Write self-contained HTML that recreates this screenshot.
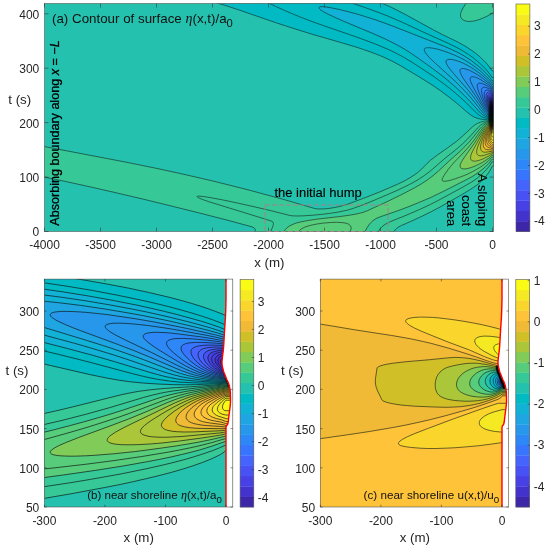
<!DOCTYPE html><html><head><meta charset="utf-8"><title>Contour of surface</title><style>html,body{margin:0;padding:0;background:#fff}svg{display:block}</style></head><body><svg width="549" height="550" viewBox="0 0 549 550"><style>text{font-family:"Liberation Sans",Arial,sans-serif;fill:#262626}.tk{font-size:12px}.lb{font-size:13.3px}.an{font-size:13px;fill:#000;stroke:#000;stroke-width:0.12px}</style><defs><clipPath id="ca"><rect x="44.5" y="3.6" width="449.1" height="227.9"/></clipPath><clipPath id="cb"><rect x="44.4" y="279.1" width="188.4" height="227.9"/></clipPath><clipPath id="cc"><rect x="320.3" y="279.1" width="188.4" height="227.9"/></clipPath><radialGradient id="bg1"><stop offset="0" stop-color="#000" stop-opacity="0.95"/><stop offset="0.55" stop-color="#000" stop-opacity="0.8"/><stop offset="1" stop-color="#000" stop-opacity="0"/></radialGradient></defs><rect width="549" height="550" fill="#fff"/><g clip-path="url(#ca)"><rect x="40" y="0" width="460" height="236" fill="#24c1ae"/><g stroke="#0c1614" stroke-width="0.55" stroke-linejoin="round" fill-rule="evenodd"><path d="M254.9 235.9L394.1 235.9 394.1 231.5 394.4 231 395.1 229.9 396.2 228.8 398.3 227.1 401.4 225.5 410.6 221.5 419.1 217.6 431.2 211.7 441.5 206.2 459.9 195.7 469.7 189.9 476.4 185.4 479.1 183.3 480.9 181.7 483.1 179.4 485.4 176.9 487.6 174.1 489.4 171.5 490.9 168.9 492.1 166.2 494.1 166.2 494.1 118.9 492.1 118.9 490.3 119.6 486.7 120.6 480.9 122 477.9 123.2 475.1 124.8 472.8 126.6 462.5 136.2 456.7 141.2 448.7 147.1 436.6 155.6 430.7 160.1 427 163.5 421.2 169.5 417.5 172.7 412.1 176.5 405.7 180.3 401.3 182.5 396.5 184.7 380 191.8 363.5 198.3 347.3 204.3 341.9 205.9 335.8 207.3 329.9 208.3 324.1 208.9 318.7 209 316.5 208.8 314.7 208.5 282.4 199.1 250.2 190.4 230.9 185.5 211.2 180.6 180.7 173.6 155.2 168.1 128.3 162.6 41.4 146 41.4 176.5 64.3 181.2 88 186.4 114 192.3 141.9 198.8 173.3 206.5 203.8 214.1 229 220.6 251.1 226.6 252.7 227.1 253.8 227.7 254.7 228.5 255.2 229.3 255.3 230.4 254.9 231.5ZM468.7 21.4L471.1 21.4 473.3 21.1 476 20.5 479.1 19.6 482.7 18.2 486.3 16.6 489.9 14.6 492.1 13 494.1 13 494.1 -6.9 470.2 -6.9 470.2 -2.5 465.8 3.5 463.1 7.8 461.3 11.6 460.7 13.3 460.5 14.9 460.6 16.5 461 17.6 461.7 18.7 462.5 19.5 463.9 20.3 465.2 20.9 467 21.3Z" fill="#37c897"/><path d="M270.6 235.9L378.4 235.9 378.4 231.5 379.3 229.9 380.6 228.2 382.2 226.6 384.1 225.1 386 223.9 388.2 222.7 390.9 221.4 406.1 215.3 419.5 209.5 430.3 204.5 440.6 199.2 463 187 471.5 182.1 474.6 180.1 477.8 177.7 480.9 175.1 484 172.1 486.7 169.3 489 166.5 490.8 164.1 492.1 161.8 494.1 161.8 494.1 119.5 492.1 119.5 483.7 123.2 482.3 124 480.3 125.4 477.4 128.1 471.5 134.8 467.5 139 463.6 142.8 459.4 146.6 454.2 151 445.1 158.2 434.1 167.8 429.6 171.6 424.5 175.4 418.7 179.3 413.1 182.5 407 185.7 397.1 190.4 386.4 195.1 372.9 200.8 359.1 206.3 353.7 208.2 347.9 210 342 211.3 335.9 212.5 328.6 213.5 321.4 214.4 312.9 215.2 303.9 215.8 296.8 216 292.3 215.8 290.1 215.5 271.4 210.8 253 206.5 238.3 203.2 222.7 199.9 211.4 197.8 204.7 196.7 198.7 196.1 197.8 196.2 197.3 196.4 197 196.7 197.5 197.2 199.6 198.3 203.7 199.9 208.5 201.6 258.7 217.1 270.8 220.9 272.1 221.4 273 222.2 273.3 222.8 273.4 223.3 273.3 224.4 272.9 226.1 272.4 227.7 270.6 231.5Z" fill="#37c897"/><path d="M284 235.9L365 235.9 365 231.5 367.1 227.6 368.9 224.9 370.7 222.8 372.9 220.7 375.2 219.1 377 218.1 379.7 217 399 210.3 407.8 207 416 203.7 430.1 197.8 442.5 191.8 467.5 179.1 471.5 176.9 474.6 175.1 480 171.3 484.9 167.3 488.5 163.7 492.1 159.2 494.1 159.2 494.1 120.1 492.1 120.1 491.3 120.5 485.6 123.7 483.3 125.4 481.6 127 480.1 128.6 471.9 138.8 468.8 142.4 465.2 146.2 459.4 151.9 450 160.2 438.8 170.7 433 175.7 427.1 180.1 421.3 183.9 414.6 187.8 401.2 194.8 386.8 201.8 367.6 210.6 364.9 211.7 362.2 212.6 356.4 214 348.3 215.4 339.3 216.6 317.4 219.1 307.5 220.6 299.9 222.1 296.8 222.9 294.1 223.8 291.4 225 289.2 226.2 287.1 227.7 285.5 229.3 284 231.5Z" fill="#57cc7a"/><path d="M298.9 235.9L350.1 235.9 350.1 231.5 350.6 230.4 351 229.3 351.1 228.2 351 227.1 350.6 226.1 350.2 225.5 349.2 224.6 348.3 224 347 223.5 345.6 223.1 342 222.6 336.7 222.3 330.4 222.5 323.2 223.1 316.9 224 311.9 225 307.8 226.1 304.4 227.3 301.6 228.8 300.1 229.9 299.5 230.6 298.9 231.5ZM442.6 180.9L443.7 181.3 445.5 181.2 447.8 180.9 451.3 180 455.4 178.7 460.3 177 464.8 175.3 468.8 173.5 472.4 171.7 476.4 169.5 480 167.4 483.1 165.3 485.8 163.2 488.1 161.3 492.1 157.1 494.1 157.1 494.1 120.7 492.1 120.7 490.6 121.6 485.4 125.4 484.2 126.5 482.7 128.1 480.6 130.8 474.2 139.9 469.3 146.1 463.4 152.7 453.6 162.9 450.8 166.2 448.2 169.5 444.7 174.4 442.8 177.6 442.3 178.7 442.1 179.8 442.2 180.3Z" fill="#57cc7a"/><path d="M463.8 168.9L466.1 168.8 468.8 168.2 471.9 167.3 476 165.6 480.9 163.2 485.8 160.3 489.4 157.8 492.1 155.4 494.1 155.4 494.1 121.3 492.1 121.3 490.8 122.1 486.9 125.4 485.4 126.9 484.3 128.1 482 131.4 477.3 138.8 474.2 143.6 465.4 155.8 462.8 159.7 461.5 161.8 460.7 163.5 460.2 165.1 460.1 166.2 460.4 167.3 460.8 167.8 461.2 168.2 462.1 168.6Z" fill="#81cc59"/><path d="M472.3 160.7L473.7 161.1 475.5 161.1 477.3 160.8 479.6 160.2 482.7 159 486.3 157.3 489.9 155.4 492.1 153.8 494.1 153.8 494.1 121.9 492.1 121.9 490.4 123.2 488.7 124.8 486.6 127 485.3 128.6 483.8 130.8 481.9 134.1 473.8 148.8 472.2 152 471.3 154.2 470.6 156.9 470.6 158.6 471.1 159.8 471.5 160.3Z" fill="#abc739"/><path d="M480.2 155.8L481.8 155.8 484 155.4 490.8 153.1 492.1 152.5 494.1 152.5 494.1 122.6 492.1 122.6 491.3 123.2 489.1 125.4 486.4 128.6 484.7 131.4 483.2 134.1 479.3 142.8 478 146.1 477.1 148.8 476.7 151 476.7 152.6 476.9 153.7 477.3 154.4 477.8 154.9 478.7 155.5Z" fill="#abc739"/><path d="M483.4 152L484.5 152.2 485.8 152.2 491.2 151.4 492.1 151.2 494.1 151.2 494.1 123.2 492.1 123.2 490.4 124.8 488.2 127.5 486.7 129.7 485.5 131.9 484.2 134.6 482.9 137.9 481.8 141.2 481 143.9 480.6 146.1 480.6 147.7 480.8 149.3 481.2 150.4 482.2 151.5Z" fill="#d1bf27"/><path d="M491.1 149.9L494.1 149.9 494.1 124 492.1 124 491.7 124.3 489.9 126.5 487.7 129.7 486 133 484.8 136.3 483.8 139.5 483.3 142.2 483.2 144.4 483.4 146.1 483.7 147.1 484.5 148.3 485.4 149.1 486.7 149.6Z" fill="#f0ba36"/><path d="M490.9 148.2L492.1 148.6 494.1 148.6 494.1 124.7 492.1 124.7 491 125.9 488.9 129.2 487.7 131.4 486.6 134.1 485.8 136.8 485.3 139.5 485.1 141.7 485.2 143.3 485.7 145 486.3 146 487.2 146.9 488.1 147.4Z" fill="#f0ba36"/><path d="M491.9 147.1L492.1 147.3 494.1 147.3 494.1 125.5 492.1 125.5 491.4 126.5 490 128.6 488.8 130.8 487.9 133 487.1 135.7 486.7 138.4 486.6 140.1 486.7 141.7 487 142.8 487.6 144.2 488.2 145 489 145.6Z" fill="#fec338"/><path d="M491.7 145.5L492.1 145.9 494.1 145.9 494.1 126.3 492.1 126.3 491.3 127.5 489.9 130.3 489 132.4 488.4 134.6 488 136.8 487.9 139.5 488.2 141.2 488.5 142.2 489 143.1 489.6 143.9Z" fill="#fec338"/><path d="M491.7 143.9L492.1 144.3 494.1 144.3 494.1 127.3 492.1 127.3 491.4 128.6 490 131.9 489.5 133.5 489.2 135.2 489 137.9 489.1 139.5 489.4 140.6 490.2 142.2Z" fill="#fad62d"/><path d="M491.9 142.2L492.1 142.5 494.1 142.5 494.1 128.4 492.1 128.4 490.8 131.9 490.1 134.6 489.9 136.8 490.2 139 490.8 140.7Z" fill="#f5e924"/><path d="M492 140.1L494.1 140.1 494.1 129.8 492.1 129.8 491.3 133 490.9 135.2 491 137.3 491.3 139 491.7 139.6Z" fill="#f5e924"/><path d="M492.1 136.8L492.1 137 494.1 137 494.1 132 492.1 132 491.8 134.6Z" fill="#f9fb15"/><path d="M483 119.4L486.7 119.4 490.3 118.9 492.1 118.4 494.1 118.4 494.1 70.8 492.1 70.8 489.2 66.6 486.3 63.1 483.1 59.8 479.1 56.1 476.4 53.9 472.8 51.2 466.1 46.7 462.5 44.6 458.5 42.4 442.3 34.5 433.8 30.1 406.5 15.1 397.1 10.2 390.4 6.9 383.2 3.7 375.6 0.5 367.9 -2.5 367.9 -6.9 196.5 -6.9 196.5 -2.5 214.8 2.4 224.2 5.1 239.1 10 276.2 22.8 295.9 29.2 312 34.2 343.2 43.2 357.5 47.5 365.7 50.3 371.8 52.4 378.8 55.1 384 57.3 393.2 61.7 401.1 66 420.2 77.5 433.1 85.6 441 91.1 449.1 97.1 457.2 103.6 467.5 112.5 469.7 114.2 471.9 115.8 474.5 117.2 476.9 118.1 480 119Z" fill="#02bac3"/><path d="M484.6 117.8L486.3 118.1 488.5 118.2 490.8 118.2 492.1 117.8 494.1 117.8 494.1 77.4 492.1 77.4 489.4 73.5 485.4 68.8 481.4 64.7 476.4 60.4 472.4 57.2 468.4 54.4 463.9 51.5 459.4 48.9 454 46.1 447.3 42.9 428.6 34.5 403.4 22.8 388.2 16.2 376.1 11.5 363.5 7 349.2 2.2 333.9 -2.5 333.9 -6.9 258.3 -6.9 258.3 -2.5 263.2 0.2 269.5 3.5 276.3 6.7 284.7 10.5 298.1 16.2 312.5 21.7 321.9 25.1 356.8 37.1 373.3 43.2 381.4 46.5 388.9 49.7 395.3 52.8 401.6 56.1 410.2 61.1 422.9 69.3 434.3 76.9 443.3 83.4 451.8 90 459.4 96.5 466 102.5 475.2 111.8 477.8 114.1 479.7 115.6 481.4 116.5 482.8 117.2Z" fill="#02bac3"/><path d="M488.2 117.2L490.8 117.5 492.1 117.3 494.1 117.3 494.1 80.8 492.1 80.8 490.3 78.2 488.1 75.5 484.9 72.2 481.8 69.1 478.7 66.4 475.1 63.5 471.5 60.8 467.9 58.4 463 55.3 458.1 52.6 452.2 49.8 445.5 46.8 396.1 27.4 386 23.6 376.9 20.3 366.9 17.1 357.9 14.3 347.9 11.6 338.9 9.4 331.1 7.8 324.1 6.7 321 6.7 320.1 6.8 319.2 7.3 319 7.8 319.2 8.4 319.6 8.9 320.8 10 323.3 11.6 327.4 13.8 334.3 17.1 342.8 20.9 373.4 33.7 385.5 39.1 393.1 42.9 399.4 46.2 404.3 49 410.1 52.7 418.2 58.2 432.5 68.5 440.6 74.6 447.8 80.3 455.8 87.3 464.3 95.4 469.7 101 478.3 110.7 480.9 113.4 482.7 114.8 484.5 115.9 486.2 116.7Z" fill="#12b1d6"/><path d="M489.8 116.7L491.2 116.9 494.1 116.8 494.1 83 492.1 83 489.4 79.7 484.9 75.2 480.5 71.1 475.5 67.2 471.9 64.6 467.9 62 464.3 59.9 460.3 57.8 454.5 55.1 448.7 52.8 443.1 50.8 437.6 49.2 432.5 48.1 428.9 47.7 427.6 47.7 426.3 47.8 425.4 48.1 424.6 48.6 424.3 49.2 424.3 49.7 424.5 50.8 424.9 51.9 426.8 54.6 429.7 57.9 435.4 63.3 452.2 78.5 457.2 83.2 462.1 88.2 467 93.4 471.1 98 474.6 102.3 480.7 110.1 483.1 112.9 484.5 114 486.3 115.3 488.1 116.1Z" fill="#12b1d6"/><path d="M490.6 116.1L491.7 116.3 494.1 116.2 494.1 84.8 492.1 84.8 489.9 82.3 486.7 79.3 483.1 76.1 480 73.6 476.9 71.3 473.3 68.8 469.7 66.6 466.6 64.9 463.4 63.3 460.3 61.9 457.6 61 454.5 60 451.8 59.5 449.5 59.3 447.8 59.5 446.7 60.1 446.2 60.6 446 61.1 446 62.2 446.3 63.3 447.7 66 450.1 69.3 454.1 74.2 466.6 88.4 471.5 94.3 475.5 99.6 482.1 109 484.2 111.8 485.8 113.4 487.2 114.5 489 115.5Z" fill="#20a5e3"/><path d="M491.1 115.6L491.7 115.7 494.1 115.7 494.1 86.4 492.1 86.4 489 83.4 482.3 78 476.9 74.3 471.9 71.5 468.4 69.8 465.2 68.8 463.9 68.5 462.5 68.5 461.6 68.6 460.7 69 460.3 69.5 460 70.4 460 71.5 460.3 72.6 461.4 75.3 463.7 79.1 475.5 95.8 478.7 100.6 483.5 108.5 485 110.7 486.4 112.3 488.1 113.9 489.4 114.8Z" fill="#2797eb"/><path d="M491.4 115L492.1 115.2 494.1 115.2 494.1 87.7 492.1 87.7 489 85.1 484.9 82.4 480.9 79.8 477.8 78.2 475.5 77.3 473.7 76.8 472.4 76.7 471.2 76.9 470.6 77.4 470.3 78 470.1 79.1 470.3 80.2 471.2 82.9 473 86.7 483.7 106.3 485.6 109.6 487.2 111.8 488.8 113.4 489.9 114.3Z" fill="#2797eb"/><path d="M491.6 114.5L492.1 114.6 494.1 114.6 494.1 88.9 492.1 88.9 488.5 86.6 484.9 84.7 482.7 83.7 480.5 83.1 479.6 83 478.7 83.2 478.1 83.5 477.6 84 477.2 85.1 477.2 86.2 477.4 87.8 477.9 89.5 479.7 94.3 484.2 104.7 486.5 109 487.9 111.2 489 112.5 490.3 113.7Z" fill="#2e87f7"/><path d="M491.7 113.9L492.1 114.1 494.1 114.1 494.1 90.1 492.1 90.1 489.4 88.7 485.8 87.5 484.5 87.3 483.1 87.4 482.5 87.8 482 88.4 481.6 89.5 481.5 90.5 481.6 92.2 481.9 93.8 483.1 98.2 485.2 104.1 486.4 106.9 487.5 109 488.4 110.7 489.7 112.3 490.8 113.3Z" fill="#2e87f7"/><path d="M491.8 113.4L492.1 113.6 494.1 113.6 494.1 91.2 492.1 91.2 490.3 90.5 488.5 90.1 487.2 90 486.3 90.1 485.4 90.5 484.9 91 484.6 91.6 484.3 92.7 484.2 93.8 484.2 95.4 484.9 99.2 486.5 104.7 488.1 108.5 488.9 110.1 489.9 111.5 490.8 112.5Z" fill="#3875fe"/><path d="M491.9 112.9L492.1 113 494.1 113 494.1 92.2 492.1 92.2 490.8 91.9 489 91.9 488 92.2 487.2 92.7 486.4 93.8 486.1 94.9 486 96 486.2 99.2 487.1 103.6 487.8 105.8 488.6 108 490 110.7 490.8 111.8Z" fill="#4563fd"/><path d="M492 112.3L492.1 112.4 494.1 112.4 494.1 93.3 490.8 93.2 489.9 93.4 489 93.8 488.4 94.3 488 94.9 487.6 96 487.4 97.1 487.3 98.7 487.5 100.9 487.8 103.1 488.5 105.8 489.3 108 490 109.6 491.1 111.2Z" fill="#4563fd"/><path d="M492.1 111.8L494.1 111.8 494.1 94.3 491.7 94.3 490.8 94.6 489.9 95.1 489.4 95.5 489 96.2 488.6 97.1 488.4 98.2 488.3 99.8 488.4 101.4 488.7 103.6 489.2 105.8 490.4 109 490.9 110.1Z" fill="#4852f4"/><path d="M491.8 110.7L492.1 111.1 494.1 111.1 494.1 95.3 492.1 95.3 491.7 95.4 490.8 96 489.8 97.1 489.4 98.2 489.2 99.2 489.2 102 489.7 105.2 490.5 108Z" fill="#4741e5"/><path d="M491.9 110.1L492.1 110.4 494.1 110.4 494.1 96.4 492.1 96.4 491.7 96.6 490.8 97.6 490.4 98.2 490 99.8 489.9 102.5 490.2 105.2 491 108Z" fill="#4741e5"/><path d="M492.1 109.6L494.1 109.6 494.1 97.5 492.1 97.5 491.2 98.7 490.6 100.3 490.5 102.5 490.7 104.7 491.3 107.4Z" fill="#4332cb"/><path d="M492 108.5L492.1 108.7 494.1 108.7 494.1 98.7 492.1 98.7 491.5 99.8 491.2 100.9 491 102.5 491.1 104.7 491.5 106.9Z" fill="#4332cb"/><path d="M492 107.4L492.1 107.6 494.1 107.6 494.1 100.2 492.1 100.2 491.8 100.9 491.6 102 491.5 103.6 491.6 105.2Z" fill="#3e26a8"/><path d="M492.1 105.8L492.1 106 494.1 106 494.1 102.2 492.1 102.2 491.9 104.1Z" fill="#3e26a8"/></g><ellipse cx="491.8" cy="116" rx="4.6" ry="19" fill="url(#bg1)"/></g><g clip-path="url(#cb)"><rect x="40" y="275" width="200" height="236" fill="#24c1ae"/><g stroke="#0c1614" stroke-width="0.68" stroke-linejoin="round" fill-rule="evenodd"><path d="M37.1 499.6L70.4 493.9 104.3 487.6 120.1 484.5 133.4 481.6 146.1 478.7 158.2 475.8 170.9 472.5 182.4 469.2 192.7 465.9 202.4 462.5 210.9 459.1 218.1 455.7 220.6 454.4 223 452.8 224.8 451.4 226 450.1 234.5 450.1 234.5 383.8 226 383.8 215.7 384.9 196.3 386.4 164.9 388.4 150.4 389.8 138.2 391.4 129.1 393.1 121.9 394.6 72.3 407 55.5 411 37.1 415Z" fill="#37c897"/><path d="M37.1 487.4L37.1 487.8 48.6 486 69.8 482.8 90.4 479.4 120.1 474.1 146.1 468.8 160 465.7 172.1 462.8 183.6 459.8 193.3 457 203 453.9 212.7 450.6 219.3 447.9 225.5 445.1 226 445 234.5 445 234.5 384.6 225.4 384.7 187.3 389.1 172.9 391 166.7 392 160.2 393.3 152.1 395.2 143.7 397.4 110.5 407.4 86.6 414.1 62 420.4 37.1 426.2Z" fill="#37c897"/><path d="M37.1 478.4L37.1 478.5 39.6 478.2 63.2 475 95.9 470.3 123.1 466 147.3 461.7 159.4 459.4 170.9 457 181.2 454.6 190.9 452.3 199.4 450 206 448 212.1 446.1 222.4 442.5 226 441.4 234.5 441.4 234.5 385.5 226 385.5 216.9 386.7 187.3 391.2 179.4 392.7 172.7 394.2 164.9 396.2 157 398.6 122.8 410.2 110.4 414.1 97.7 417.9 83.7 421.9 69.2 425.8 53.5 429.9 37.1 433.9Z" fill="#57cc7a"/><path d="M37.1 469.4L37.1 469.6 54.1 467.9 86.2 464.2 114 460.6 141.9 456.5 168.5 452.1 179.4 450 190.3 447.8 198.8 445.9 206 444.1 213.3 442.2 221.8 439.6 226 438.6 234.5 438.6 234.5 386.3 226 386.3 217.5 387.5 209.2 389 192.9 392.1 185.7 393.7 179.6 395.3 171.8 397.6 164.8 400 131 412.8 118.3 417.3 104.9 421.7 89.8 426.5 74.1 431.2 56.5 436.2 37.1 441.5Z" fill="#57cc7a"/><path d="M64.2 456L69.8 456.2 77.1 456.1 85.6 455.8 94.6 455.3 114.6 453.7 134.6 451.6 147.9 449.9 161.8 448 176.4 445.9 189.1 443.8 198.8 442.1 207.8 440.3 214.5 438.8 225.4 436.2 234.5 436.2 234.5 387.1 226 387.1 219.9 388.1 215 389 200.9 392.1 191.2 394.5 184.8 396.3 178.5 398.4 173.1 400.4 167.2 402.7 144.9 412.3 128.5 419 112.2 425.2 78.4 437.6 65.5 442.7 58.5 445.8 54.1 448.2 51.4 450.2 50.7 450.9 50.3 451.7 50.2 452.5 50.6 453.3 51.6 454.1 52.9 454.6 55.3 455.2 57.7 455.6Z" fill="#81cc59"/><path d="M121.9 444.7L129.8 444.8 138.8 444.6 149.7 444 161.8 443 179.4 441 201.8 438 219.9 435.2 226 433.8 234.5 433.8 234.5 388 226 388 220.6 388.9 215.7 389.9 204 392.9 194.1 395.7 188 397.6 181.8 400 175.4 402.7 168.6 405.9 152.8 413.6 131.3 423.9 121.9 428.6 115.6 432.1 111.4 434.9 109.9 436 108.7 437.2 107.7 438.4 107.4 439.2 107.2 440.4 107.5 441.1 108.3 441.9 109.8 442.8 112.1 443.5 114.6 444 117.6 444.4Z" fill="#abc739"/><path d="M159.2 437.2L164.3 437.3 170.3 437.1 183 436.4 219.3 433 223.6 432.4 224.8 432.1 226 431.6 234.5 431.6 234.5 388.9 226 388.9 221.2 389.8 216.9 390.8 209.1 392.9 197.7 396.5 192.1 398.4 186.5 400.8 179.8 403.9 172.3 407.8 161.5 414.1 153.2 419.2 148 422.7 144.5 425.5 142.1 427.8 141.3 429 140.7 430.2 140.4 431 140.4 431.7 140.8 432.9 142 434.1 143.1 434.7 144.3 435.2 147.2 436 150.3 436.6 154.6 437Z" fill="#abc739"/><path d="M176.8 431.7L184.2 432 193.3 431.9 221.2 430.7 224.2 430.4 226 429.9 234.5 429.9 234.5 389.8 226 389.8 222.4 390.6 218.7 391.4 214.9 392.5 201.9 396.8 194.8 399.6 187.5 403.1 180.6 407 174.1 411.4 168 416.1 164.4 419.6 163.1 421.2 162.1 422.7 161.5 424.3 161.4 425.5 161.7 426.6 162.6 427.8 163.7 428.7 165.5 429.6 167.9 430.4 170.3 430.9 173.3 431.4Z" fill="#d1bf27"/><path d="M218.3 428.6L223 428.7 226 428.5 234.5 428.5 234.5 390.8 226 390.8 220.6 392.1 215.4 393.7 207.7 396.5 201.7 398.8 197.4 400.8 193.7 402.7 189.1 405.5 185.7 407.8 182.7 410.2 180.2 412.5 178.2 414.9 176.7 417.2 175.9 419.2 175.8 420.8 176 421.9 176.7 423.1 177.5 423.9 178.5 424.7 180.1 425.5 182.2 426.2 184.8 426.9 189.7 427.7 195.7 428.2 201.2 428.4Z" fill="#f0ba36"/><path d="M225.7 427L234.5 427.1 234.5 391.8 226 391.8 223.1 392.5 219.3 393.7 215.1 395.3 208.3 398 203.1 400.4 200.1 401.9 197.5 403.5 194.1 405.9 191.7 407.8 189.7 409.8 188.3 411.4 187.1 413.3 186.4 414.9 186.1 416.4 186.2 417.6 186.5 418.8 187.3 420 188.5 421.1 189.8 421.9 191.5 422.7 193.6 423.5 197.5 424.4 202.4 425.2 207.2 425.6 219.3 426.4Z" fill="#f0ba36"/><path d="M225.8 425.5L226 425.6 234.5 425.6 234.5 392.9 226 392.9 225.4 393.1 223 393.8 219.8 394.9 211.8 398.4 205.6 401.6 203.6 402.7 201.3 404.3 199.4 405.9 197.4 407.8 195.8 409.8 194.9 411.4 194.3 412.9 194.2 414.1 194.3 415.3 194.7 416.4 195.4 417.6 196.3 418.5 197.9 419.6 199.4 420.4 202.4 421.5 206 422.3 210.3 423 221.2 424.4 224.2 424.9Z" fill="#fec338"/><path d="M225.5 423.5L226 423.7 234.5 423.7 234.5 394.1 226 394.1 222.4 395.3 218.1 397.2 210.8 401.2 208.2 402.7 206.1 404.3 204.3 405.9 203 407.4 202 409 201.3 410.6 201 411.7 201 412.5 201.2 413.7 201.5 414.5 202.2 415.7 202.9 416.4 203.9 417.2 205.2 418 207.8 419.2 210.3 420 213.7 420.8 221.2 422.1 223.6 422.8Z" fill="#fec338"/><path d="M225.2 421.2L226 421.5 234.5 421.5 234.5 395.3 226 395.3 224.2 396 222.4 396.8 216.9 400 211.7 403.5 209.8 405.1 208.8 406.3 207.9 407.4 207.3 408.6 206.9 410.6 207 411.7 207.2 412.5 208.1 414.1 209.8 415.7 211.8 416.8 213.9 417.7 216.3 418.5 221.8 419.9Z" fill="#fad62d"/><path d="M225.3 418.4L226 418.7 234.5 418.7 234.5 396.6 226 396.6 224.8 397.2 223 398.2 221 399.6 216.5 403.1 214.1 405.5 213.2 406.6 212.6 407.8 212.2 409.4 212.3 411 213.1 412.5 214.5 414 216.3 415.2 218.2 416.1Z" fill="#f5e924"/><path d="M225.2 414.9L226 415 234.5 415 234.5 398.2 226 398.2 224 399.6 221.5 401.9 219.4 404.3 218.1 406.3 217.5 407.8 217.4 409.4 217.6 410.6 218.4 411.7 219.7 412.9 221.2 413.7 223 414.4Z" fill="#f5e924"/><path d="M224.9 410.6L226 410.7 234.5 410.7 234.5 400.2 226 400.2 225.4 400.8 224.5 401.9 223.3 403.9 222.7 405.5 222.5 407 222.6 408.2 223 409.1 223.6 409.8 224.1 410.2Z" fill="#f9fb15"/><path d="M174.7 384.7L185.4 384.8 196.3 384.6 215.7 383.9 226 383.1 234.5 383.1 234.5 315.3 226 315.3 225.4 315.1 223.5 314.5 213.9 310.8 207.2 308.4 199.4 305.8 190.9 303.2 180.6 300.3 170.9 297.7 160 295.1 148.5 292.4 127.9 288 107.4 284.1 85 280.2 61.3 276.5 61.3 271.8 37.1 271.8 37.1 362.4 90.4 374.7 105.5 377.8 118.3 380.1 130.4 381.8 143.7 383.1 159.4 384.1Z" fill="#02bac3"/><path d="M190.6 382.7L200 383 212.7 383 219.3 382.8 226 382.3 234.5 382.3 234.5 325.4 226 325.4 224.2 324.4 221.8 323.3 212.7 319.8 203.6 316.7 192.1 313.1 181.2 310 168.5 306.6 155.2 303.3 141.9 300.3 117 295.1 92.2 290.4 66.2 286.1 37.1 281.8 37.1 349.3 59 354.5 77.9 359.2 94.6 363.5 132.2 373.6 140.6 375.7 147.9 377.4 158.8 379.5 169.1 381 179.4 382.1Z" fill="#02bac3"/><path d="M214 382L219.9 381.9 226 381.5 234.5 381.5 234.5 330 226 330 219.3 327.2 211.5 324.5 201.8 321.4 189.1 317.8 177.6 314.7 164.9 311.5 151.5 308.4 137.6 305.3 114 300.6 88.6 296 63.2 291.9 37.1 288.2 37.1 340.7 67.4 348.5 92.8 355.3 114.3 361.6 150.9 372.7 158.2 374.7 165 376.5 170.4 377.6 176.4 378.8 181.8 379.6 187.9 380.4 200.6 381.4Z" fill="#12b1d6"/><path d="M211.5 380.8L219.3 381.1 226 380.8 234.5 380.8 234.5 333.1 226 333.1 218.7 330.5 211.5 328.2 200 324.9 186.7 321.4 173.9 318.2 160.6 315.1 146.7 312 132.8 309.2 109.8 304.9 86.2 300.9 62 297.3 37.1 294.1 37.1 333.2 73.8 343.1 89.2 347.5 103.4 351.8 114.8 355.3 126.7 359.2 162.2 371.4 173.3 374.7 182 376.9 191.5 378.6 201.8 380Z" fill="#12b1d6"/><path d="M215.6 380L221.2 380.2 226 380.1 234.5 380.1 234.5 335.6 226 335.6 218.1 333.1 210.3 330.9 194.5 326.9 180.6 323.6 167.9 320.7 155.2 318.1 141.9 315.4 127.9 312.9 104.9 309 80.7 305.4 57.7 302.6 37.1 300.5 37.1 325.3 87.4 340.6 102.5 345.4 115.2 349.5 135.2 356.5 147.9 361.3 169.1 369.5 175.3 371.8 180.6 373.5 188.5 375.7 197.4 377.6 206.6 379.1Z" fill="#20a5e3"/><path d="M218.2 379.2L222.4 379.4 234.5 379.3 234.5 337.7 226 337.7 215.7 334.9 206.6 332.8 186.7 328.4 168.5 324.7 152.1 321.6 137 319 122.5 316.8 108 314.7 96.5 313.4 85.6 312.3 76.5 311.7 67.4 311.4 61.3 311.4 55.9 311.9 54.1 312.2 52.3 312.7 51 313.4 50.3 314.1 50.1 314.9 50.6 316.1 51.7 317.3 53.3 318.4 55.8 320 58 321.2 65.6 324.7 72.3 327.5 80.4 330.6 118.3 344.6 135.2 351.1 149.7 357.1 173.6 367.4 181.3 370.6 190.2 373.7 194.5 375 199.4 376.2 204.1 377.2 208.5 378 213.3 378.7Z" fill="#2797eb"/><path d="M219.8 378.4L223.6 378.6 234.5 378.6 234.5 339.6 226 339.6 215.7 337.2 207.2 335.4 180.6 330.6 169.1 328.6 157 326.8 147.8 325.5 138.8 324.5 131.6 323.8 125.5 323.4 119.5 323.2 114.6 323.2 110.9 323.5 108 324.1 106.1 324.9 105.5 325.5 105.3 325.9 105.2 326.7 105.4 327.5 106.3 328.6 107.5 329.8 110.7 332.2 116.1 335.3 125.4 340 151.5 352.5 176.8 365.1 183.4 368.2 187.9 370.2 192.8 372.2 197.4 373.7 201.3 374.9 205.8 376.1 210.3 377 215.1 377.8Z" fill="#2797eb"/><path d="M220.9 377.6L224.2 377.9 234.5 377.9 234.5 341.3 226 341.3 210.3 338.3 198.2 336.5 178.2 333.9 170.3 333 164.9 332.6 156.4 332.3 152.8 332.4 149.7 332.7 147.3 333.1 145.5 333.6 144 334.5 143.4 335.3 143.2 336.1 143.3 336.9 143.6 337.7 144.3 338.8 146.6 341.2 150.5 344.3 156.2 348.2 164.3 353.3 177.3 361.2 184.8 365.5 190 368.2 194.2 370.2 198.9 372.2 203 373.6 207.1 374.9 211.8 376.1 216.3 377Z" fill="#2e87f7"/><path d="M221.7 376.9L224.8 377.1 234.5 377.2 234.5 342.8 226 342.8 214.5 341.1 207.2 340.2 192.7 338.9 183 338.4 177 338.5 174.5 338.7 172.1 339.1 170.3 339.6 169.1 340 167.8 340.8 167 341.6 166.6 342.4 166.4 343.1 166.5 343.9 166.9 345.1 168 347.1 170.3 349.8 173.7 352.9 178.6 356.9 183.8 360.8 189 364.3 192.9 366.7 197.2 369 201.3 371 205.1 372.5 209.1 373.9 212.7 375 217.3 376.1Z" fill="#2e87f7"/><path d="M222.3 376.1L225.4 376.4 234.5 376.4 234.5 344.3 226 344.3 216.3 343.2 210.3 342.8 201.8 342.4 195.1 342.4 190.3 342.8 187.9 343.1 186.1 343.5 184.8 344 183.3 344.7 181.8 345.9 181.3 346.7 181.1 347.5 181.1 349 181.7 351 182.8 352.9 185 355.7 187.6 358.4 190.6 361.2 194.1 363.9 197.4 366.3 200.6 368.2 204.3 370.2 207.7 371.8 210.9 373 214.5 374.2 218.6 375.3Z" fill="#3875fe"/><path d="M225.5 375.7L234.5 375.7 234.5 345.7 226 345.7 218.1 345.2 213.9 345.1 208.4 345.1 203.6 345.3 199.4 345.8 196.3 346.5 193.9 347.5 192.7 348.2 191.9 349 191.2 350.2 190.9 351.8 191.2 353.7 192 355.7 193.4 358 195.3 360.4 197.7 362.7 200.4 365.1 203.1 367.1 205.5 368.6 208.4 370.2 211.7 371.8 214.7 372.9 218.3 374.1 222.9 375.3Z" fill="#4563fd"/><path d="M225.2 374.9L234.5 375 234.5 347.2 226 347.2 218.1 347 213.9 347.1 209.7 347.4 206.6 347.9 203.6 348.6 201.2 349.7 199.5 351 198.6 352.2 198.1 353.7 198.1 355.3 198.4 356.9 199.3 358.8 200.5 360.8 202.1 362.7 204.1 364.7 206.4 366.7 208.7 368.2 211.3 369.8 213.6 371 216.2 372.2 219.5 373.3 223 374.4Z" fill="#4563fd"/><path d="M225.2 374.1L226 374.2 234.5 374.2 234.5 348.6 221.8 348.6 215.1 349.1 211.5 349.7 209.1 350.3 207.2 351.1 205.4 352.3 204.5 353.3 203.8 354.5 203.5 355.7 203.5 357.3 203.9 358.8 204.6 360.4 205.8 362.4 207 363.9 208.6 365.5 210.4 367.1 212.6 368.6 214.6 369.8 216.8 371 219.5 372.2 223 373.4Z" fill="#4852f4"/><path d="M225.3 373.3L226 373.5 234.5 373.5 234.5 349.9 226 349.9 223 350.1 219.3 350.5 215.7 351.2 212.7 352.1 210.9 353 209.8 353.7 209.1 354.5 208.2 356.1 208 356.9 207.9 358 208 359.2 208.4 360.4 208.9 361.6 209.8 363.1 211.8 365.5 214.5 367.8 217.5 369.8 221.4 371.8Z" fill="#4741e5"/><path d="M225.5 372.5L226 372.7 234.5 372.7 234.5 351.4 226 351.4 223 351.6 219.9 352.3 216.9 353.2 214.8 354.1 213.2 355.3 212.6 356.1 212.1 356.9 211.9 357.6 211.7 358.8 211.9 360.8 212.4 362 213 363.1 214.4 365.1 216.4 367.1 218.9 369 221.6 370.6Z" fill="#4741e5"/><path d="M225.7 371.8L226 371.9 234.5 371.9 234.5 352.8 226 352.8 224.7 352.9 223 353.3 219.9 354.4 218 355.3 216.4 356.5 215.8 357.3 215.4 358 215 359.6 215.2 361.6 215.8 363.1 217.1 365.1 218.5 366.7 220.3 368.2 221.9 369.4Z" fill="#4332cb"/><path d="M225.9 371L234.5 371 234.5 354.3 226 354.3 224.9 354.5 222.4 355.6 220.6 356.5 219.2 357.6 218.4 358.8 218 360 218 361.6 218.4 363.1 219.2 364.7 220.4 366.3 221.6 367.4Z" fill="#4332cb"/><path d="M225.9 369.8L226 369.9 234.5 369.9 234.5 355.8 226 355.8 224.7 356.5 222.9 357.6 222 358.4 221.2 359.5 220.7 360.4 220.6 361.6 220.7 362.7 221.2 364.3 221.9 365.5 222.8 366.7Z" fill="#3e26a8"/><path d="M225.9 368.2L226 368.4 234.5 368.4 234.5 357.6 226 357.6 224.1 359.6 223.4 360.8 223.1 361.6 223 362.4 223.1 363.5 223.5 364.7 223.9 365.5Z" fill="#3e26a8"/><path d="M226 365.1L234.5 365.1 234.5 361.4 226 361.4 225.7 363.1Z" fill="#3e26a8"/></g><polyline points="228.5,387 228.4,386.3 228.2,385.5 228,384.7 227.7,383.9 227.4,383.1 227.1,382.3 226.8,381.6 226.4,380.8 226,380 225.7,379.2 225.3,378.4" fill="none" stroke="#000" stroke-opacity="0.45" stroke-width="1.6" stroke-linecap="round" stroke-linejoin="round"/><polygon points="226,511.7 226,510.9 226,510.1 226,509.4 226,508.6 226,507.8 226,507 226,506.2 226,505.4 226,504.6 226,503.9 226,503.1 226,502.3 226,501.5 226,500.7 226,499.9 226,499.2 226,498.4 226,497.6 226,496.8 226,496 226,495.2 226,494.5 226,493.7 226,492.9 226,492.1 226,491.3 226,490.5 226,489.8 226,489 226,488.2 226,487.4 226,486.6 226,485.8 226,485 226,484.3 226,483.5 226,482.7 226,481.9 226,481.1 226,480.3 226,479.6 226,478.8 226,478 226,477.2 226,476.4 226,475.6 226,474.9 226,474.1 226,473.3 226,472.5 226,471.7 226,470.9 226,470.2 226,469.4 226,468.6 226,467.8 226,467 226,466.2 226,465.4 226,464.7 226,463.9 226,463.1 226,462.3 226,461.5 226,460.7 226,460 226,459.2 226,458.4 226,457.6 226,456.8 226,456 226,455.3 226,454.5 226,453.7 226,452.9 226,452.1 226,451.3 226,450.6 226,449.8 226,449 226,448.2 226,447.4 226,446.6 226,445.8 226,445.1 226,444.3 226,443.5 226,442.7 226,441.9 226,441.1 226,440.4 226,439.6 226,438.8 226,438 226,437.2 226,436.4 226,435.7 226,434.9 226,434.1 226,433.3 226,432.5 226,431.7 226,431 226,430.2 226,429.4 226,428.6 226,427.8 226.1,427 226.3,426.2 226.7,425.5 227.4,424.7 227.8,423.9 228,423.1 228.1,422.3 228.3,421.5 228.4,420.8 228.5,420 228.5,419.2 228.6,418.4 228.7,417.6 228.8,416.8 228.9,416.1 229,415.3 229.1,414.5 229.2,413.7 229.3,412.9 229.4,412.1 229.5,411.4 229.6,410.6 229.7,409.8 229.8,409 229.9,408.2 230,407.4 230.1,406.6 230.2,405.9 230.3,405.1 230.3,404.3 230.4,403.5 230.5,402.7 230.5,401.9 230.5,401.2 230.5,400.4 230.5,399.6 230.5,398.8 230.5,398 230.5,397.2 230.5,396.5 230.4,395.7 230.4,394.9 230.4,394.1 230.4,393.3 230.4,392.5 230.3,391.8 230.2,391 230.1,390.2 230,389.4 229.9,388.6 229.7,387.8 229.5,387 229.4,386.3 229.2,385.5 229,384.7 228.7,383.9 228.4,383.1 228.1,382.3 227.8,381.6 227.4,380.8 227,380 226.7,379.2 226.3,378.4 226,377.6 225.7,376.9 225.4,376.1 225.1,375.3 224.8,374.5 224.5,373.7 224.2,372.9 223.9,372.2 223.6,371.4 223.4,370.6 223.2,369.8 223,369 222.8,368.2 222.6,367.4 222.5,366.7 222.3,365.9 222.2,365.1 222.1,364.3 222,363.5 222,362.7 222,362 222,361.2 222.1,360.4 222.2,359.6 222.3,358.8 222.3,358 222.4,357.3 222.5,356.5 222.6,355.7 222.7,354.9 222.8,354.1 222.9,353.3 223,352.6 223.1,351.8 223.2,351 223.3,350.2 223.4,349.4 223.4,348.6 223.5,347.8 223.6,347.1 223.6,346.3 223.7,345.5 223.7,344.7 223.8,343.9 223.8,343.1 223.9,342.4 223.9,341.6 224,340.8 224,340 224.1,339.2 224.1,338.4 224.2,337.7 224.2,336.9 224.2,336.1 224.3,335.3 224.3,334.5 224.4,333.7 224.4,333 224.5,332.2 224.5,331.4 224.6,330.6 224.6,329.8 224.6,329 224.7,328.2 224.7,327.5 224.8,326.7 224.9,325.9 224.9,325.1 225,324.3 225,323.5 225.1,322.8 225.1,322 225.2,321.2 225.2,320.4 225.3,319.6 225.3,318.8 225.4,318.1 225.4,317.3 225.5,316.5 225.5,315.7 225.5,314.9 225.6,314.1 225.6,313.4 225.6,312.6 225.7,311.8 225.7,311 225.7,310.2 225.7,309.4 225.8,308.6 225.8,307.9 225.8,307.1 225.8,306.3 225.9,305.5 225.9,304.7 225.9,303.9 225.9,303.2 225.9,302.4 225.9,301.6 226,300.8 226,300 226,299.2 226,298.5 226,297.7 226,296.9 226,296.1 226,295.3 226,294.5 226,293.8 226,293 226,292.2 226,291.4 226,290.6 226,289.8 226,289 226,288.3 226,287.5 226,286.7 226,285.9 226,285.1 226,284.3 226,283.6 226,282.8 226,282 226,281.2 226,280.4 226,279.6 226,278.9 226,278.1 226,277.3 226,276.5 226,275.7 226,274.9 234.8,274.9 234.8,511.7" fill="#fff"/><polyline points="226,511.7 226,510.9 226,510.1 226,509.4 226,508.6 226,507.8 226,507 226,506.2 226,505.4 226,504.6 226,503.9 226,503.1 226,502.3 226,501.5 226,500.7 226,499.9 226,499.2 226,498.4 226,497.6 226,496.8 226,496 226,495.2 226,494.5 226,493.7 226,492.9 226,492.1 226,491.3 226,490.5 226,489.8 226,489 226,488.2 226,487.4 226,486.6 226,485.8 226,485 226,484.3 226,483.5 226,482.7 226,481.9 226,481.1 226,480.3 226,479.6 226,478.8 226,478 226,477.2 226,476.4 226,475.6 226,474.9 226,474.1 226,473.3 226,472.5 226,471.7 226,470.9 226,470.2 226,469.4 226,468.6 226,467.8 226,467 226,466.2 226,465.4 226,464.7 226,463.9 226,463.1 226,462.3 226,461.5 226,460.7 226,460 226,459.2 226,458.4 226,457.6 226,456.8 226,456 226,455.3 226,454.5 226,453.7 226,452.9 226,452.1 226,451.3 226,450.6 226,449.8 226,449 226,448.2 226,447.4 226,446.6 226,445.8 226,445.1 226,444.3 226,443.5 226,442.7 226,441.9 226,441.1 226,440.4 226,439.6 226,438.8 226,438 226,437.2 226,436.4 226,435.7 226,434.9 226,434.1 226,433.3 226,432.5 226,431.7 226,431 226,430.2 226,429.4 226,428.6 226,427.8 226.1,427 226.3,426.2 226.7,425.5 227.4,424.7 227.8,423.9 228,423.1 228.1,422.3 228.3,421.5 228.4,420.8 228.5,420 228.5,419.2 228.6,418.4 228.7,417.6 228.8,416.8 228.9,416.1 229,415.3 229.1,414.5 229.2,413.7 229.3,412.9 229.4,412.1 229.5,411.4 229.6,410.6 229.7,409.8 229.8,409 229.9,408.2 230,407.4 230.1,406.6 230.2,405.9 230.3,405.1 230.3,404.3 230.4,403.5 230.5,402.7 230.5,401.9 230.5,401.2 230.5,400.4 230.5,399.6 230.5,398.8 230.5,398 230.5,397.2 230.5,396.5 230.4,395.7 230.4,394.9 230.4,394.1 230.4,393.3 230.4,392.5 230.3,391.8 230.2,391 230.1,390.2 230,389.4 229.9,388.6 229.7,387.8 229.5,387 229.4,386.3 229.2,385.5 229,384.7 228.7,383.9 228.4,383.1 228.1,382.3 227.8,381.6 227.4,380.8 227,380 226.7,379.2 226.3,378.4 226,377.6 225.7,376.9 225.4,376.1 225.1,375.3 224.8,374.5 224.5,373.7 224.2,372.9 223.9,372.2 223.6,371.4 223.4,370.6 223.2,369.8 223,369 222.8,368.2 222.6,367.4 222.5,366.7 222.3,365.9 222.2,365.1 222.1,364.3 222,363.5 222,362.7 222,362 222,361.2 222.1,360.4 222.2,359.6 222.3,358.8 222.3,358 222.4,357.3 222.5,356.5 222.6,355.7 222.7,354.9 222.8,354.1 222.9,353.3 223,352.6 223.1,351.8 223.2,351 223.3,350.2 223.4,349.4 223.4,348.6 223.5,347.8 223.6,347.1 223.6,346.3 223.7,345.5 223.7,344.7 223.8,343.9 223.8,343.1 223.9,342.4 223.9,341.6 224,340.8 224,340 224.1,339.2 224.1,338.4 224.2,337.7 224.2,336.9 224.2,336.1 224.3,335.3 224.3,334.5 224.4,333.7 224.4,333 224.5,332.2 224.5,331.4 224.6,330.6 224.6,329.8 224.6,329 224.7,328.2 224.7,327.5 224.8,326.7 224.9,325.9 224.9,325.1 225,324.3 225,323.5 225.1,322.8 225.1,322 225.2,321.2 225.2,320.4 225.3,319.6 225.3,318.8 225.4,318.1 225.4,317.3 225.5,316.5 225.5,315.7 225.5,314.9 225.6,314.1 225.6,313.4 225.6,312.6 225.7,311.8 225.7,311 225.7,310.2 225.7,309.4 225.8,308.6 225.8,307.9 225.8,307.1 225.8,306.3 225.9,305.5 225.9,304.7 225.9,303.9 225.9,303.2 225.9,302.4 225.9,301.6 226,300.8 226,300 226,299.2 226,298.5 226,297.7 226,296.9 226,296.1 226,295.3 226,294.5 226,293.8 226,293 226,292.2 226,291.4 226,290.6 226,289.8 226,289 226,288.3 226,287.5 226,286.7 226,285.9 226,285.1 226,284.3 226,283.6 226,282.8 226,282 226,281.2 226,280.4 226,279.6 226,278.9 226,278.1 226,277.3 226,276.5 226,275.7 226,274.9" fill="none" stroke="#f00" stroke-width="1.4" stroke-linejoin="round"/></g><g clip-path="url(#cc)"><rect x="316" y="275" width="200" height="236" fill="#fec338"/><g stroke="#0c1614" stroke-width="0.6" stroke-linejoin="round" fill-rule="evenodd"><path d="M420 448.2L427.5 448.5 436 448.5 445.1 448.2 454.2 447.8 465.7 446.9 477.8 445.8 489.9 444.3 502 442.6 510.5 442.6 510.5 403.3 498.4 403.3 494.9 404.3 482.3 408.6 453.7 418.8 427.5 428.6 414.4 433.7 407.2 436.8 402.7 439.2 399.9 441.1 398.8 442.3 398.5 443.1 398.5 443.9 399.1 444.7 400.5 445.5 402.7 446.1 405.7 446.7 410.5 447.4ZM499.9 361.2L502 361.3 510.5 361.3 510.5 329.9 502 329.9 497.2 328.4 489.9 326.5 481.4 324.6 472.3 322.8 463.8 321.3 454.8 319.9 446.3 318.8 438.4 317.9 432.3 317.4 426.3 317.2 420.8 317.1 416 317.3 412.4 317.7 408.9 318.4 407 319.2 406.3 319.7 405.8 320.4 405.7 321.2 406.2 322.4 407.3 323.5 408.7 324.7 410.6 325.9 413.4 327.5 420.9 331 430.3 334.9 449 342.4 468.7 349.7 484.2 356.5 489.1 358.4 492.3 359.6 495.1 360.4 497.8 360.9Z" fill="#fad62d"/><path d="M501.7 432.1L510.5 432.2 510.5 409.7 502 409.7 495.8 411.4 492.1 412.5 488.2 414.1 484.6 416.1 482 418 480.8 419.2 480 420.4 479.5 421.5 479.3 422.7 479.3 423.9 479.6 424.7 480.3 425.9 481.1 426.6 482.1 427.4 483.4 428.2 485 429 486.9 429.7 491.1 430.8 495.3 431.5ZM501.4 359.2L510.5 359.2 510.5 337.8 502 337.8 491.7 336.4 488.1 336.2 484.4 336.1 481.4 336.4 478.9 336.9 477 337.7 475.5 338.8 475 339.6 474.7 340.8 474.8 342 475.3 343.1 475.9 344.3 477.2 345.9 478.8 347.5 480.6 349 482.3 350.2 484.9 351.8 492.2 355.7 497.5 358 499.6 358.8Z" fill="#f5e924"/><path d="M501.5 356.9L502 357.2 510.5 357.2 510.5 343.6 502 343.6 499 343.8 497.2 344.2 495.9 344.6 495.1 345.1 494.3 345.9 493.8 347.1 493.8 348.2 494.1 349.4 494.9 351 496.1 352.6 497.7 354.1 499.7 355.7Z" fill="#f9fb15"/><path d="M313 439.2L313 439.6 326.4 437.8 348.2 434.7 369.4 431.5 393.6 427.4 405.6 425.1 416.8 422.7 430.4 419.6 444.5 416 461.4 411.3 475.4 407.2 486.9 403.3 497.8 399.4 499.6 398.5 500.8 397.7 501.6 396.8 502 395.8 510.5 395.8 510.5 363.6 501.4 363.6 499 363.8 496.5 363.5 494.1 363 489.4 361.6 476.6 357.1 467.5 354 448.7 348.2 431.7 343.5 423.5 341.6 412.6 339.2 405.1 337.8 391.8 335.5 354.7 329.8 331.6 325.9 313 322.9Z" fill="#f0ba36"/><path d="M434.4 407L445.1 407.3 453.5 407.1 461.4 406.6 469.3 405.5 474.1 404.6 479 403.5 483.8 402.1 488.7 400.5 494.1 398.5 498.4 396.6 500.8 395.2 502 394.1 510.5 394.1 510.5 365.9 502 365.9 497.8 365.6 493.8 364.7 480.8 360.9 472.9 359.1 468.1 358.3 463.8 357.8 459 357.5 454.8 357.4 447.5 357.9 429.9 359.7 406.3 361.7 393.8 363.1 386.9 364.2 382.1 365.3 380.3 365.9 378.5 366.7 377.8 367.1 377.1 367.8 375.5 378.4 375.3 381.6 375.6 384.7 376.4 387.8 377.6 391 380.7 397.2 381.7 399.6 382.1 400.1 382.8 400.8 385.4 401.9 389.6 403.1 394.8 404.1 400.9 405 407.5 405.6 414.8 406.2Z" fill="#d1bf27"/><path d="M464.8 401.2L469.3 401.2 474.1 401 478.4 400.6 482.6 400 487.5 398.9 492.3 397.3 497.2 395.2 501.4 392.9 502 392.7 510.5 392.7 510.5 368.5 502 368.5 490.5 365.4 485 364.3 478.4 363.4 475.4 363.2 471.7 363.2 467.5 363.4 463.2 363.9 458.4 364.7 452.8 365.9 449.6 366.7 446.9 367.5 445.1 368.4 442.7 369.8 441.2 371 439.9 372.2 438.1 374.5 436.6 377.2 435.7 380.4 435.4 382.3 435.2 384.3 435.4 387.8 435.7 389.4 436.2 391 436.9 392.5 437.6 393.7 439 395.3 441.2 396.8 443.8 398 446.3 398.9 449.9 399.7 454.2 400.4 459.6 400.9Z" fill="#abc739"/><path d="M476.3 396.8L479.6 397.1 482.6 397.1 485.6 397 488.1 396.6 491.7 395.8 494.7 394.8 497.8 393.5 501.4 391.5 502 391.4 510.5 391.4 510.5 370.6 502 370.6 497.2 368.7 492.3 367.4 487.5 366.7 485 366.6 482 366.7 479 367 476.6 367.4 474.5 367.8 471.9 368.6 469.9 369.4 467.3 370.6 465.2 371.8 463 373.3 461.2 374.9 459.4 376.9 458.1 378.8 457.2 380.8 456.6 383.1 456.5 385.1 456.9 387 457.5 388.6 458.6 390.2 459.8 391.4 461.5 392.5 463.8 393.7 466.9 394.9 469.7 395.7 472.9 396.4Z" fill="#81cc59"/><path d="M485.4 394.1L489.3 394.3 491.7 394.1 493.5 393.7 495.3 393.2 497.2 392.5 502 390.1 510.5 390.1 510.5 372.3 502 372.3 498.4 370.4 495.3 369.4 492.3 368.9 488.7 368.9 484.9 369.4 483.2 369.8 481.1 370.6 477.9 372.2 476.2 373.3 474.7 374.5 473 376.1 471.8 377.6 470.8 379.2 470.1 380.8 469.8 382.3 469.7 383.9 470 385.5 470.5 386.7 471.3 387.8 472.5 389 474 390.2 476.1 391.4 478.4 392.4 480.8 393.2 482.9 393.7Z" fill="#57cc7a"/><path d="M489.6 391.8L491.1 392 492.9 392.1 495.9 391.7 497.2 391.4 499 390.6 502 388.9 510.5 388.9 510.5 373.6 502 373.6 499.6 372.2 497.2 371.1 495.3 370.7 492.9 370.6 489.9 371 487.4 371.8 485 372.9 482.9 374.5 481.7 375.7 480.8 376.9 480 378 479.2 379.6 478.9 380.8 478.8 382 478.8 383.1 479.1 384.3 479.7 385.5 480.5 386.7 481.6 387.8 483.1 389 484.4 389.9 486.3 390.7 488 391.4Z" fill="#37c897"/><path d="M494.1 390.2L496.5 390.2 498.4 389.9 500.8 388.9 502 388.1 510.5 388.1 510.5 374.7 502 374.7 500.8 373.8 499 372.9 497.2 372.3 495.3 372.1 493.5 372.3 491.7 372.9 489.9 373.7 488.3 374.9 487.6 375.7 486.7 376.9 486 378 485.6 379.2 485.3 380.4 485.3 381.6 485.4 382.7 485.8 383.9 486.9 385.9 487.9 387 488.8 387.8 489.9 388.6 491.4 389.4 492.9 389.9Z" fill="#24c1ae"/><path d="M495.7 388.6L497.2 388.9 499 388.8 500.8 388.2 502 387.4 510.5 387.4 510.5 375.5 502 375.5 500.8 374.7 499.6 374.1 498.4 373.7 497.2 373.6 495.9 373.7 494.7 374 493.5 374.6 492.3 375.5 491.1 376.9 490.6 377.6 490.2 378.8 489.9 380.8 490.1 382.7 490.9 384.7 492.1 386.3 492.9 387 494 387.8Z" fill="#02bac3"/><path d="M497.3 387.4L498.4 387.7 499.6 387.8 500.8 387.5 502 386.8 510.5 386.8 510.5 376.2 502 376.2 500.2 375.1 498.4 374.8 497.7 374.9 496.5 375.3 495.3 376.1 494.2 377.2 493.5 378.8 493.2 380.4 493.3 382 493.7 383.5 494.5 385.1 495.1 385.9 495.9 386.6Z" fill="#12b1d6"/><path d="M498.8 386.7L499.6 386.9 500.2 386.9 500.8 386.8 502 386.3 510.5 386.3 510.5 376.8 502 376.8 500.8 376.1 499.6 375.9 498.4 376.1 497.2 376.9 496.3 378 495.8 379.2 495.6 380.4 495.6 382 496 383.5 496.9 385.1 497.8 386Z" fill="#20a5e3"/><path d="M499.6 385.9L500.2 386.1 500.8 386.2 502 385.8 510.5 385.8 510.5 377.3 502 377.3 500.8 376.8 500.2 376.8 499.6 376.9 499 377.3 498.2 378 497.6 379.2 497.3 380.4 497.3 381.6 497.6 383.1 498.1 384.3 498.6 385.1Z" fill="#2797eb"/><path d="M500.1 385.1L500.8 385.5 501.4 385.5 502 385.3 510.5 385.3 510.5 377.8 502 377.8 501.4 377.6 500.8 377.5 500.2 377.7 499.6 378.2 499.2 378.8 498.7 380 498.6 381.2 498.6 382.3 499 383.5 499.4 384.3Z" fill="#2e87f7"/><path d="M500.8 384.7L501.4 384.9 510.5 384.9 510.5 378.2 502 378.2 501.4 378.1 500.8 378.3 500.3 378.8 499.8 379.6 499.6 380.4 499.5 381.6 499.7 382.7 499.9 383.5 500.4 384.3Z" fill="#3875fe"/><path d="M501.3 384.3L502 384.4 510.5 384.4 510.5 378.7 501.4 378.7 500.9 379.2 500.5 380 500.2 381.6 500.5 383.1 500.9 383.9Z" fill="#4563fd"/><path d="M501.7 383.9L502 384 510.5 384 510.5 379.1 502 379.1 501.7 379.2 501.4 379.4 501 380 500.8 381.6 501.1 383.1 501.4 383.7Z" fill="#4852f4"/><path d="M501.9 383.5L502 383.6 510.5 383.6 510.5 379.5 502 379.5 501.5 380 501.3 380.8 501.2 381.6 501.4 382.7Z" fill="#4741e5"/><path d="M501.9 383.1L510.5 383.2 510.5 379.9 502 379.9 501.6 380.8 501.5 381.6 501.6 382.3Z" fill="#4332cb"/><path d="M501.8 382.3L502 382.7 510.5 382.7 510.5 380.4 502 380.4 501.8 381.2Z" fill="#3e26a8"/></g><polyline points="504,387.8 503.8,387 503.7,386.3 503.5,385.5 503.3,384.7 503,383.9 502.7,383.1 502.4,382.3 502.1,381.6 501.7,380.8 501.3,380 501,379.2 500.6,378.4 500.3,377.6 500,376.9 499.7,376.1 499.4,375.3 499.1,374.5 498.8,373.7 498.5,372.9 498.2,372.2 497.9,371.4 497.7,370.6 497.5,369.8 497.3,369 497.1,368.2 496.9,367.4 496.8,366.7" fill="none" stroke="#000" stroke-opacity="0.92" stroke-width="2.6" stroke-linecap="round" stroke-linejoin="round"/><polygon points="502,511.7 502,510.9 502,510.1 502,509.4 502,508.6 502,507.8 502,507 502,506.2 502,505.4 502,504.6 502,503.9 502,503.1 502,502.3 502,501.5 502,500.7 502,499.9 502,499.2 502,498.4 502,497.6 502,496.8 502,496 502,495.2 502,494.5 502,493.7 502,492.9 502,492.1 502,491.3 502,490.5 502,489.8 502,489 502,488.2 502,487.4 502,486.6 502,485.8 502,485 502,484.3 502,483.5 502,482.7 502,481.9 502,481.1 502,480.3 502,479.6 502,478.8 502,478 502,477.2 502,476.4 502,475.6 502,474.9 502,474.1 502,473.3 502,472.5 502,471.7 502,470.9 502,470.2 502,469.4 502,468.6 502,467.8 502,467 502,466.2 502,465.4 502,464.7 502,463.9 502,463.1 502,462.3 502,461.5 502,460.7 502,460 502,459.2 502,458.4 502,457.6 502,456.8 502,456 502,455.3 502,454.5 502,453.7 502,452.9 502,452.1 502,451.3 502,450.6 502,449.8 502,449 502,448.2 502,447.4 502,446.6 502,445.8 502,445.1 502,444.3 502,443.5 502,442.7 502,441.9 502,441.1 502,440.4 502,439.6 502,438.8 502,438 502,437.2 502,436.4 502,435.7 502,434.9 502,434.1 502,433.3 502,432.5 502,431.7 502,431 502,430.2 502,429.4 502,428.6 502,427.8 502.1,427 502.3,426.2 502.7,425.5 503.4,424.7 503.8,423.9 504,423.1 504.1,422.3 504.3,421.5 504.4,420.8 504.5,420 504.5,419.2 504.6,418.4 504.7,417.6 504.8,416.8 504.9,416.1 505,415.3 505.1,414.5 505.2,413.7 505.3,412.9 505.4,412.1 505.5,411.4 505.6,410.6 505.7,409.8 505.8,409 505.9,408.2 506,407.4 506.1,406.6 506.2,405.9 506.3,405.1 506.3,404.3 506.4,403.5 506.5,402.7 506.5,401.9 506.5,401.2 506.5,400.4 506.5,399.6 506.5,398.8 506.5,398 506.5,397.2 506.5,396.5 506.4,395.7 506.4,394.9 506.4,394.1 506.4,393.3 506.4,392.5 506.3,391.8 506.2,391 506.1,390.2 506,389.4 505.9,388.6 505.7,387.8 505.5,387 505.4,386.3 505.2,385.5 505,384.7 504.7,383.9 504.4,383.1 504.1,382.3 503.8,381.6 503.4,380.8 503,380 502.7,379.2 502.3,378.4 502,377.6 501.7,376.9 501.4,376.1 501.1,375.3 500.8,374.5 500.5,373.7 500.2,372.9 499.9,372.2 499.6,371.4 499.4,370.6 499.2,369.8 499,369 498.8,368.2 498.6,367.4 498.5,366.7 498.3,365.9 498.2,365.1 498.1,364.3 498,363.5 498,362.7 498,362 498,361.2 498.1,360.4 498.2,359.6 498.3,358.8 498.3,358 498.4,357.3 498.5,356.5 498.6,355.7 498.7,354.9 498.8,354.1 498.9,353.3 499,352.6 499.1,351.8 499.2,351 499.3,350.2 499.4,349.4 499.4,348.6 499.5,347.8 499.6,347.1 499.6,346.3 499.7,345.5 499.7,344.7 499.8,343.9 499.8,343.1 499.9,342.4 499.9,341.6 500,340.8 500,340 500.1,339.2 500.1,338.4 500.2,337.7 500.2,336.9 500.2,336.1 500.3,335.3 500.3,334.5 500.4,333.7 500.4,333 500.5,332.2 500.5,331.4 500.6,330.6 500.6,329.8 500.6,329 500.7,328.2 500.7,327.5 500.8,326.7 500.9,325.9 500.9,325.1 501,324.3 501,323.5 501.1,322.8 501.1,322 501.2,321.2 501.2,320.4 501.3,319.6 501.3,318.8 501.4,318.1 501.4,317.3 501.5,316.5 501.5,315.7 501.5,314.9 501.6,314.1 501.6,313.4 501.6,312.6 501.7,311.8 501.7,311 501.7,310.2 501.7,309.4 501.8,308.6 501.8,307.9 501.8,307.1 501.8,306.3 501.9,305.5 501.9,304.7 501.9,303.9 501.9,303.2 501.9,302.4 501.9,301.6 502,300.8 502,300 502,299.2 502,298.5 502,297.7 502,296.9 502,296.1 502,295.3 502,294.5 502,293.8 502,293 502,292.2 502,291.4 502,290.6 502,289.8 502,289 502,288.3 502,287.5 502,286.7 502,285.9 502,285.1 502,284.3 502,283.6 502,282.8 502,282 502,281.2 502,280.4 502,279.6 502,278.9 502,278.1 502,277.3 502,276.5 502,275.7 502,274.9 510.7,274.9 510.7,511.7" fill="#fff"/><polyline points="502,511.7 502,510.9 502,510.1 502,509.4 502,508.6 502,507.8 502,507 502,506.2 502,505.4 502,504.6 502,503.9 502,503.1 502,502.3 502,501.5 502,500.7 502,499.9 502,499.2 502,498.4 502,497.6 502,496.8 502,496 502,495.2 502,494.5 502,493.7 502,492.9 502,492.1 502,491.3 502,490.5 502,489.8 502,489 502,488.2 502,487.4 502,486.6 502,485.8 502,485 502,484.3 502,483.5 502,482.7 502,481.9 502,481.1 502,480.3 502,479.6 502,478.8 502,478 502,477.2 502,476.4 502,475.6 502,474.9 502,474.1 502,473.3 502,472.5 502,471.7 502,470.9 502,470.2 502,469.4 502,468.6 502,467.8 502,467 502,466.2 502,465.4 502,464.7 502,463.9 502,463.1 502,462.3 502,461.5 502,460.7 502,460 502,459.2 502,458.4 502,457.6 502,456.8 502,456 502,455.3 502,454.5 502,453.7 502,452.9 502,452.1 502,451.3 502,450.6 502,449.8 502,449 502,448.2 502,447.4 502,446.6 502,445.8 502,445.1 502,444.3 502,443.5 502,442.7 502,441.9 502,441.1 502,440.4 502,439.6 502,438.8 502,438 502,437.2 502,436.4 502,435.7 502,434.9 502,434.1 502,433.3 502,432.5 502,431.7 502,431 502,430.2 502,429.4 502,428.6 502,427.8 502.1,427 502.3,426.2 502.7,425.5 503.4,424.7 503.8,423.9 504,423.1 504.1,422.3 504.3,421.5 504.4,420.8 504.5,420 504.5,419.2 504.6,418.4 504.7,417.6 504.8,416.8 504.9,416.1 505,415.3 505.1,414.5 505.2,413.7 505.3,412.9 505.4,412.1 505.5,411.4 505.6,410.6 505.7,409.8 505.8,409 505.9,408.2 506,407.4 506.1,406.6 506.2,405.9 506.3,405.1 506.3,404.3 506.4,403.5 506.5,402.7 506.5,401.9 506.5,401.2 506.5,400.4 506.5,399.6 506.5,398.8 506.5,398 506.5,397.2 506.5,396.5 506.4,395.7 506.4,394.9 506.4,394.1 506.4,393.3 506.4,392.5 506.3,391.8 506.2,391 506.1,390.2 506,389.4 505.9,388.6 505.7,387.8 505.5,387 505.4,386.3 505.2,385.5 505,384.7 504.7,383.9 504.4,383.1 504.1,382.3 503.8,381.6 503.4,380.8 503,380 502.7,379.2 502.3,378.4 502,377.6 501.7,376.9 501.4,376.1 501.1,375.3 500.8,374.5 500.5,373.7 500.2,372.9 499.9,372.2 499.6,371.4 499.4,370.6 499.2,369.8 499,369 498.8,368.2 498.6,367.4 498.5,366.7 498.3,365.9 498.2,365.1 498.1,364.3 498,363.5 498,362.7 498,362 498,361.2 498.1,360.4 498.2,359.6 498.3,358.8 498.3,358 498.4,357.3 498.5,356.5 498.6,355.7 498.7,354.9 498.8,354.1 498.9,353.3 499,352.6 499.1,351.8 499.2,351 499.3,350.2 499.4,349.4 499.4,348.6 499.5,347.8 499.6,347.1 499.6,346.3 499.7,345.5 499.7,344.7 499.8,343.9 499.8,343.1 499.9,342.4 499.9,341.6 500,340.8 500,340 500.1,339.2 500.1,338.4 500.2,337.7 500.2,336.9 500.2,336.1 500.3,335.3 500.3,334.5 500.4,333.7 500.4,333 500.5,332.2 500.5,331.4 500.6,330.6 500.6,329.8 500.6,329 500.7,328.2 500.7,327.5 500.8,326.7 500.9,325.9 500.9,325.1 501,324.3 501,323.5 501.1,322.8 501.1,322 501.2,321.2 501.2,320.4 501.3,319.6 501.3,318.8 501.4,318.1 501.4,317.3 501.5,316.5 501.5,315.7 501.5,314.9 501.6,314.1 501.6,313.4 501.6,312.6 501.7,311.8 501.7,311 501.7,310.2 501.7,309.4 501.8,308.6 501.8,307.9 501.8,307.1 501.8,306.3 501.9,305.5 501.9,304.7 501.9,303.9 501.9,303.2 501.9,302.4 501.9,301.6 502,300.8 502,300 502,299.2 502,298.5 502,297.7 502,296.9 502,296.1 502,295.3 502,294.5 502,293.8 502,293 502,292.2 502,291.4 502,290.6 502,289.8 502,289 502,288.3 502,287.5 502,286.7 502,285.9 502,285.1 502,284.3 502,283.6 502,282.8 502,282 502,281.2 502,280.4 502,279.6 502,278.9 502,278.1 502,277.3 502,276.5 502,275.7 502,274.9" fill="none" stroke="#f00" stroke-width="1.4" stroke-linejoin="round"/></g><rect x="44.5" y="3.6" width="449.1" height="227.9" fill="none" stroke="#555" stroke-width="0.6"/><path d="M44.5 231.5v-4.0M44.5 3.6v4.0M100.5 231.5v-4.0M100.5 3.6v4.0M156.5 231.5v-4.0M156.5 3.6v4.0M212.5 231.5v-4.0M212.5 3.6v4.0M268.5 231.5v-4.0M268.5 3.6v4.0M324.5 231.5v-4.0M324.5 3.6v4.0M380.5 231.5v-4.0M380.5 3.6v4.0M436.5 231.5v-4.0M436.5 3.6v4.0M492.5 231.5v-4.0M492.5 3.6v4.0M44.5 231.5h4.0M493.6 231.5h-4.0M44.5 177.1h4.0M493.6 177.1h-4.0M44.5 122.6h4.0M493.6 122.6h-4.0M44.5 68.2h4.0M493.6 68.2h-4.0M44.5 13.8h4.0M493.6 13.8h-4.0" stroke="#262626" stroke-width="0.5" fill="none"/><rect x="44.4" y="279.1" width="188.4" height="227.9" fill="none" stroke="#555" stroke-width="0.6"/><path d="M44.4 507v-2.3M44.4 279.1v2.3M104.9 507v-2.3M104.9 279.1v2.3M165.5 507v-2.3M165.5 279.1v2.3M226 507v-2.3M226 279.1v2.3M44.4 507h2.3M232.8 507h-2.3M44.4 467.8h2.3M232.8 467.8h-2.3M44.4 428.6h2.3M232.8 428.6h-2.3M44.4 389.4h2.3M232.8 389.4h-2.3M44.4 350.2h2.3M232.8 350.2h-2.3M44.4 311h2.3M232.8 311h-2.3" stroke="#262626" stroke-width="0.5" fill="none"/><rect x="320.3" y="279.1" width="188.4" height="227.9" fill="none" stroke="#555" stroke-width="0.6"/><path d="M320.3 507v-2.3M320.3 279.1v2.3M380.9 507v-2.3M380.9 279.1v2.3M441.4 507v-2.3M441.4 279.1v2.3M502 507v-2.3M502 279.1v2.3M320.3 507h2.3M508.7 507h-2.3M320.3 467.8h2.3M508.7 467.8h-2.3M320.3 428.6h2.3M508.7 428.6h-2.3M320.3 389.4h2.3M508.7 389.4h-2.3M320.3 350.2h2.3M508.7 350.2h-2.3M320.3 311h2.3M508.7 311h-2.3" stroke="#262626" stroke-width="0.5" fill="none"/><rect x="516" y="221.16" width="13.9" height="10.64" fill="#3e26a8"/><rect x="516" y="210.82" width="13.9" height="10.64" fill="#4332cb"/><rect x="516" y="200.48" width="13.9" height="10.64" fill="#4741e5"/><rect x="516" y="190.14" width="13.9" height="10.64" fill="#4852f4"/><rect x="516" y="179.80" width="13.9" height="10.64" fill="#4563fd"/><rect x="516" y="169.45" width="13.9" height="10.64" fill="#3875fe"/><rect x="516" y="159.11" width="13.9" height="10.64" fill="#2e87f7"/><rect x="516" y="148.77" width="13.9" height="10.64" fill="#2797eb"/><rect x="516" y="138.43" width="13.9" height="10.64" fill="#20a5e3"/><rect x="516" y="128.09" width="13.9" height="10.64" fill="#12b1d6"/><rect x="516" y="117.75" width="13.9" height="10.64" fill="#02bac3"/><rect x="516" y="107.41" width="13.9" height="10.64" fill="#24c1ae"/><rect x="516" y="97.07" width="13.9" height="10.64" fill="#37c897"/><rect x="516" y="86.73" width="13.9" height="10.64" fill="#57cc7a"/><rect x="516" y="76.39" width="13.9" height="10.64" fill="#81cc59"/><rect x="516" y="66.05" width="13.9" height="10.64" fill="#abc739"/><rect x="516" y="55.70" width="13.9" height="10.64" fill="#d1bf27"/><rect x="516" y="45.36" width="13.9" height="10.64" fill="#f0ba36"/><rect x="516" y="35.02" width="13.9" height="10.64" fill="#fec338"/><rect x="516" y="24.68" width="13.9" height="10.64" fill="#fad62d"/><rect x="516" y="14.34" width="13.9" height="10.64" fill="#f5e924"/><rect x="516" y="4.00" width="13.9" height="10.64" fill="#f9fb15"/><rect x="516" y="4" width="13.9" height="227.5" fill="none" stroke="#555" stroke-width="0.6"/><text x="533.9" y="30.4" class="tk">3</text><text x="533.9" y="58.2" class="tk">2</text><text x="533.9" y="86.1" class="tk">1</text><text x="533.9" y="113.9" class="tk">0</text><text x="533.9" y="141.8" class="tk">-1</text><text x="533.9" y="169.6" class="tk">-2</text><text x="533.9" y="197.5" class="tk">-3</text><text x="533.9" y="225.3" class="tk">-4</text><path d="M529.9 26.3h-2M529.9 54.1h-2M529.9 82h-2M529.9 109.8h-2M529.9 137.7h-2M529.9 165.5h-2M529.9 193.4h-2M529.9 221.2h-2" stroke="#262626" stroke-width="0.5"/><rect x="240.1" y="496.66" width="13.7" height="10.64" fill="#3e26a8"/><rect x="240.1" y="486.32" width="13.7" height="10.64" fill="#4332cb"/><rect x="240.1" y="475.98" width="13.7" height="10.64" fill="#4741e5"/><rect x="240.1" y="465.64" width="13.7" height="10.64" fill="#4852f4"/><rect x="240.1" y="455.30" width="13.7" height="10.64" fill="#4563fd"/><rect x="240.1" y="444.95" width="13.7" height="10.64" fill="#3875fe"/><rect x="240.1" y="434.61" width="13.7" height="10.64" fill="#2e87f7"/><rect x="240.1" y="424.27" width="13.7" height="10.64" fill="#2797eb"/><rect x="240.1" y="413.93" width="13.7" height="10.64" fill="#20a5e3"/><rect x="240.1" y="403.59" width="13.7" height="10.64" fill="#12b1d6"/><rect x="240.1" y="393.25" width="13.7" height="10.64" fill="#02bac3"/><rect x="240.1" y="382.91" width="13.7" height="10.64" fill="#24c1ae"/><rect x="240.1" y="372.57" width="13.7" height="10.64" fill="#37c897"/><rect x="240.1" y="362.23" width="13.7" height="10.64" fill="#57cc7a"/><rect x="240.1" y="351.89" width="13.7" height="10.64" fill="#81cc59"/><rect x="240.1" y="341.55" width="13.7" height="10.64" fill="#abc739"/><rect x="240.1" y="331.20" width="13.7" height="10.64" fill="#d1bf27"/><rect x="240.1" y="320.86" width="13.7" height="10.64" fill="#f0ba36"/><rect x="240.1" y="310.52" width="13.7" height="10.64" fill="#fec338"/><rect x="240.1" y="300.18" width="13.7" height="10.64" fill="#fad62d"/><rect x="240.1" y="289.84" width="13.7" height="10.64" fill="#f5e924"/><rect x="240.1" y="279.50" width="13.7" height="10.64" fill="#f9fb15"/><rect x="240.1" y="279.5" width="13.7" height="227.5" fill="none" stroke="#555" stroke-width="0.6"/><text x="257.8" y="305.5" class="tk">3</text><text x="257.8" y="333.5" class="tk">2</text><text x="257.8" y="361.6" class="tk">1</text><text x="257.8" y="389.6" class="tk">0</text><text x="257.8" y="417.7" class="tk">-1</text><text x="257.8" y="445.7" class="tk">-2</text><text x="257.8" y="473.8" class="tk">-3</text><text x="257.8" y="501.8" class="tk">-4</text><path d="M253.8 301.4h-2M253.8 329.4h-2M253.8 357.5h-2M253.8 385.5h-2M253.8 413.6h-2M253.8 441.6h-2M253.8 469.7h-2M253.8 497.7h-2" stroke="#262626" stroke-width="0.5"/><rect x="515.8" y="496.66" width="13.9" height="10.64" fill="#3e26a8"/><rect x="515.8" y="486.32" width="13.9" height="10.64" fill="#4332cb"/><rect x="515.8" y="475.98" width="13.9" height="10.64" fill="#4741e5"/><rect x="515.8" y="465.64" width="13.9" height="10.64" fill="#4852f4"/><rect x="515.8" y="455.30" width="13.9" height="10.64" fill="#4563fd"/><rect x="515.8" y="444.95" width="13.9" height="10.64" fill="#3875fe"/><rect x="515.8" y="434.61" width="13.9" height="10.64" fill="#2e87f7"/><rect x="515.8" y="424.27" width="13.9" height="10.64" fill="#2797eb"/><rect x="515.8" y="413.93" width="13.9" height="10.64" fill="#20a5e3"/><rect x="515.8" y="403.59" width="13.9" height="10.64" fill="#12b1d6"/><rect x="515.8" y="393.25" width="13.9" height="10.64" fill="#02bac3"/><rect x="515.8" y="382.91" width="13.9" height="10.64" fill="#24c1ae"/><rect x="515.8" y="372.57" width="13.9" height="10.64" fill="#37c897"/><rect x="515.8" y="362.23" width="13.9" height="10.64" fill="#57cc7a"/><rect x="515.8" y="351.89" width="13.9" height="10.64" fill="#81cc59"/><rect x="515.8" y="341.55" width="13.9" height="10.64" fill="#abc739"/><rect x="515.8" y="331.20" width="13.9" height="10.64" fill="#d1bf27"/><rect x="515.8" y="320.86" width="13.9" height="10.64" fill="#f0ba36"/><rect x="515.8" y="310.52" width="13.9" height="10.64" fill="#fec338"/><rect x="515.8" y="300.18" width="13.9" height="10.64" fill="#fad62d"/><rect x="515.8" y="289.84" width="13.9" height="10.64" fill="#f5e924"/><rect x="515.8" y="279.50" width="13.9" height="10.64" fill="#f9fb15"/><rect x="515.8" y="279.5" width="13.9" height="227.5" fill="none" stroke="#555" stroke-width="0.6"/><text x="533.7" y="284.8" class="tk">1</text><text x="533.7" y="326" class="tk">0</text><text x="533.7" y="367.1" class="tk">-1</text><text x="533.7" y="408.3" class="tk">-2</text><text x="533.7" y="449.4" class="tk">-3</text><text x="533.7" y="490.5" class="tk">-4</text><path d="M529.7 280.7h-2M529.7 321.9h-2M529.7 363h-2M529.7 404.2h-2M529.7 445.3h-2M529.7 486.4h-2" stroke="#262626" stroke-width="0.5"/><text x="44.5" y="249" class="tk" text-anchor="middle">-4000</text><text x="100.5" y="249" class="tk" text-anchor="middle">-3500</text><text x="156.5" y="249" class="tk" text-anchor="middle">-3000</text><text x="212.5" y="249" class="tk" text-anchor="middle">-2500</text><text x="268.5" y="249" class="tk" text-anchor="middle">-2000</text><text x="324.5" y="249" class="tk" text-anchor="middle">-1500</text><text x="380.5" y="249" class="tk" text-anchor="middle">-1000</text><text x="436.5" y="249" class="tk" text-anchor="middle">-500</text><text x="492.5" y="249" class="tk" text-anchor="middle">0</text><text x="39.3" y="236.4" class="tk" text-anchor="end">0</text><text x="39.3" y="182" class="tk" text-anchor="end">100</text><text x="39.3" y="127.5" class="tk" text-anchor="end">200</text><text x="39.3" y="73.1" class="tk" text-anchor="end">300</text><text x="39.3" y="18.7" class="tk" text-anchor="end">400</text><text x="44.4" y="524.8" class="tk" text-anchor="middle">-300</text><text x="104.9" y="524.8" class="tk" text-anchor="middle">-200</text><text x="165.5" y="524.8" class="tk" text-anchor="middle">-100</text><text x="226" y="524.8" class="tk" text-anchor="middle">0</text><text x="39.3" y="511.9" class="tk" text-anchor="end">50</text><text x="39.3" y="472.7" class="tk" text-anchor="end">100</text><text x="39.3" y="433.5" class="tk" text-anchor="end">150</text><text x="39.3" y="394.3" class="tk" text-anchor="end">200</text><text x="39.3" y="355.1" class="tk" text-anchor="end">250</text><text x="39.3" y="315.9" class="tk" text-anchor="end">300</text><text x="320.3" y="524.8" class="tk" text-anchor="middle">-300</text><text x="380.9" y="524.8" class="tk" text-anchor="middle">-200</text><text x="441.4" y="524.8" class="tk" text-anchor="middle">-100</text><text x="502" y="524.8" class="tk" text-anchor="middle">0</text><text x="315.2" y="511.9" class="tk" text-anchor="end">50</text><text x="315.2" y="472.7" class="tk" text-anchor="end">100</text><text x="315.2" y="433.5" class="tk" text-anchor="end">150</text><text x="315.2" y="394.3" class="tk" text-anchor="end">200</text><text x="315.2" y="355.1" class="tk" text-anchor="end">250</text><text x="315.2" y="315.9" class="tk" text-anchor="end">300</text><text x="52" y="22.8" style="font-size:13.35px;fill:#111">(a) Contour of surface <tspan font-family="Liberation Serif,serif" font-style="italic" font-size="1.05em">η</tspan>(x,t)/a<tspan dy="4" font-size="0.84em">0</tspan></text><text x="8.3" y="103.6" class="lb">t (s)</text><text x="269.4" y="266.7" class="lb" text-anchor="middle">x (m)</text><text x="5.5" y="375" class="lb">t (s)</text><text x="280.9" y="375" class="lb">t (s)</text><text x="138.7" y="542.3" class="lb" text-anchor="middle">x (m)</text><text x="414.8" y="542.3" class="lb" text-anchor="middle">x (m)</text><text x="87.2" y="499" style="font-size:11.56px;fill:#111">(b) near shoreline <tspan font-family="Liberation Serif,serif" font-style="italic" font-size="1.05em">η</tspan>(x,t)/a<tspan dy="4" font-size="0.84em">0</tspan></text><text x="363.6" y="499" style="font-size:11.66px;fill:#111">(c) near shoreline u(x,t)/u<tspan dy="4" font-size="0.84em">0</tspan></text><text transform="translate(58.6,225.7) rotate(-90)" style="font-size:12.58px;fill:#000;stroke:#000;stroke-width:0.3">Absorbing boundary along <tspan font-style="italic">x</tspan> = −<tspan font-style="italic">L</tspan></text><text x="274.4" y="197.2" class="an">the initial hump</text><rect x="265.2" y="205" width="122.9" height="26.5" fill="none" stroke="#a8808a" stroke-width="1.1" stroke-dasharray="4.5 2.5"/><text transform="translate(478.1,226.2) rotate(90)" text-anchor="end" class="an">A sloping</text><text transform="translate(462.4,226.2) rotate(90)" text-anchor="end" class="an">coast</text><text transform="translate(447.1,226.2) rotate(90)" text-anchor="end" class="an">area</text></svg></body></html>
